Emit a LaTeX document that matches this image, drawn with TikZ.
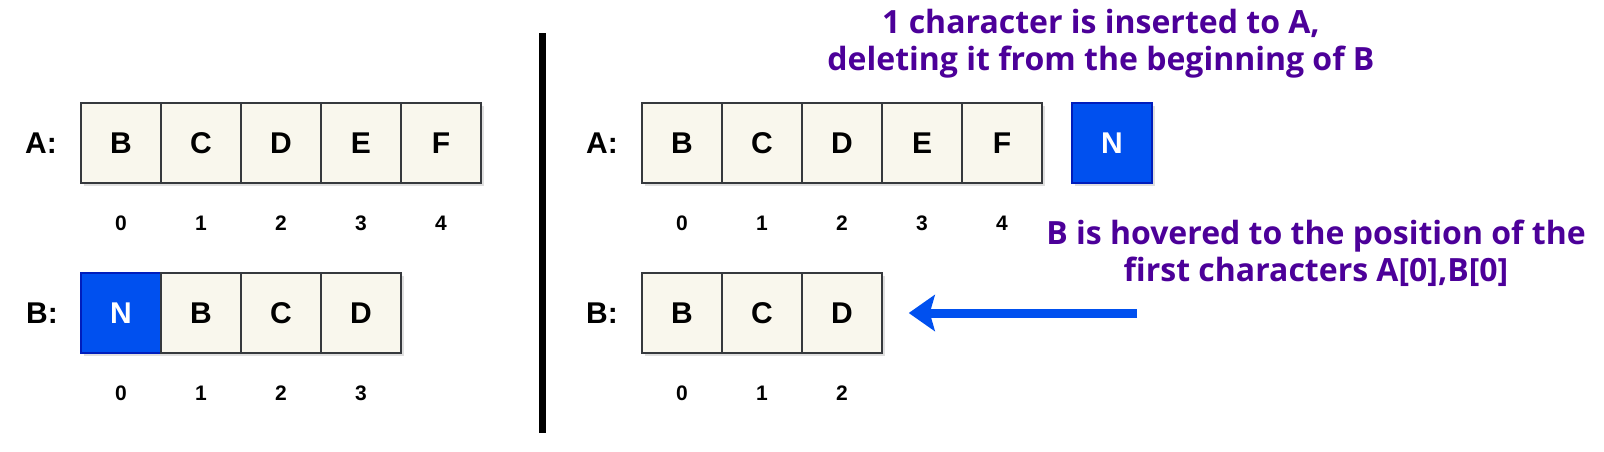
\documentclass[tikz,border=0pt]{standalone}
\usepackage{fontspec}
\setmainfont{Liberation Sans}
\newfontfamily\notefont{Open Sans}
\usetikzlibrary{arrows.meta,shadows}
\definecolor{cellfill}{HTML}{F9F7ED}
\definecolor{cellline}{HTML}{36393D}
\definecolor{newblue}{HTML}{0050EF}
\definecolor{newline}{HTML}{001DBC}
\definecolor{notepurple}{HTML}{4C0099}
\tikzset{
  cell/.style={draw=cellline, fill=cellfill, line width=1.5pt, minimum size=80pt,
    inner sep=0pt, font=\bfseries\fontsize{30}{32}\selectfont,
    drop shadow={shadow xshift=3pt, shadow yshift=-3pt, opacity=0.25, fill=gray}},
  newcell/.style={cell, draw=newline, fill=newblue, text=white},
  idx/.style={font=\bfseries\fontsize{21}{23}\selectfont},
  rowname/.style={font=\bfseries\fontsize{30}{32}\selectfont},
  note/.style={text=notepurple, align=center, font=\notefont\bfseries\fontsize{32}{37}\selectfont}
}
\begin{document}
\begin{tikzpicture}[x=1pt,y=-1pt]
    \useasboundingbox (0,0) rectangle (1604,451);
    % before the move
    \node[rowname] (la) at (41,143) {A:};
    \foreach \c [count=\i from 0] in {B,C,D,E,F} {
      \node[cell] (la\i) at (121+80*\i,143) {\c};
      \node[idx] (lai\i) at (121+80*\i,223) {\i};
    }
    \node[rowname] (lb) at (42,313) {B:};
    \foreach \c/\s [count=\i from 0] in {N/newcell,B/cell,C/cell,D/cell} {
      \node[\s] (lb\i) at (121+80*\i,313) {\c};
      \node[idx] (lbi\i) at (121+80*\i,393) {\i};
    }
    % divider
    \draw[line width=7pt] (542,33) -- (542,433);
    % after the move
    \node[rowname] (ra) at (602,143) {A:};
    \foreach \c [count=\i from 0] in {B,C,D,E,F} {
      \node[cell] (ra\i) at (682+80*\i,143) {\c};
      \node[idx] (rai\i) at (682+80*\i,223) {\i};
    }
    \node[newcell] (rn) at (1112,143) {N};
    \node[rowname] (rb) at (602,313) {B:};
    \foreach \c [count=\i from 0] in {B,C,D} {
      \node[cell] (rb\i) at (682+80*\i,313) {\c};
      \node[idx] (rbi\i) at (682+80*\i,393) {\i};
    }
    \coordinate (arrowstart) at (1137,313);
    \draw[newblue, line width=9pt, -{Stealth[length=26pt,width=36pt,inset=5pt]}]
      (arrowstart) -- ([xshift=26pt]rb2.east);
    \node[note] (noteins) at (1101,44) {1 character is inserted to A,\\deleting it from the beginning of B};
    \node[note] (notehov) at (1316,253) {B is hovered to the position of the\\first characters A[0],B[0]};
\end{tikzpicture}
\end{document}
